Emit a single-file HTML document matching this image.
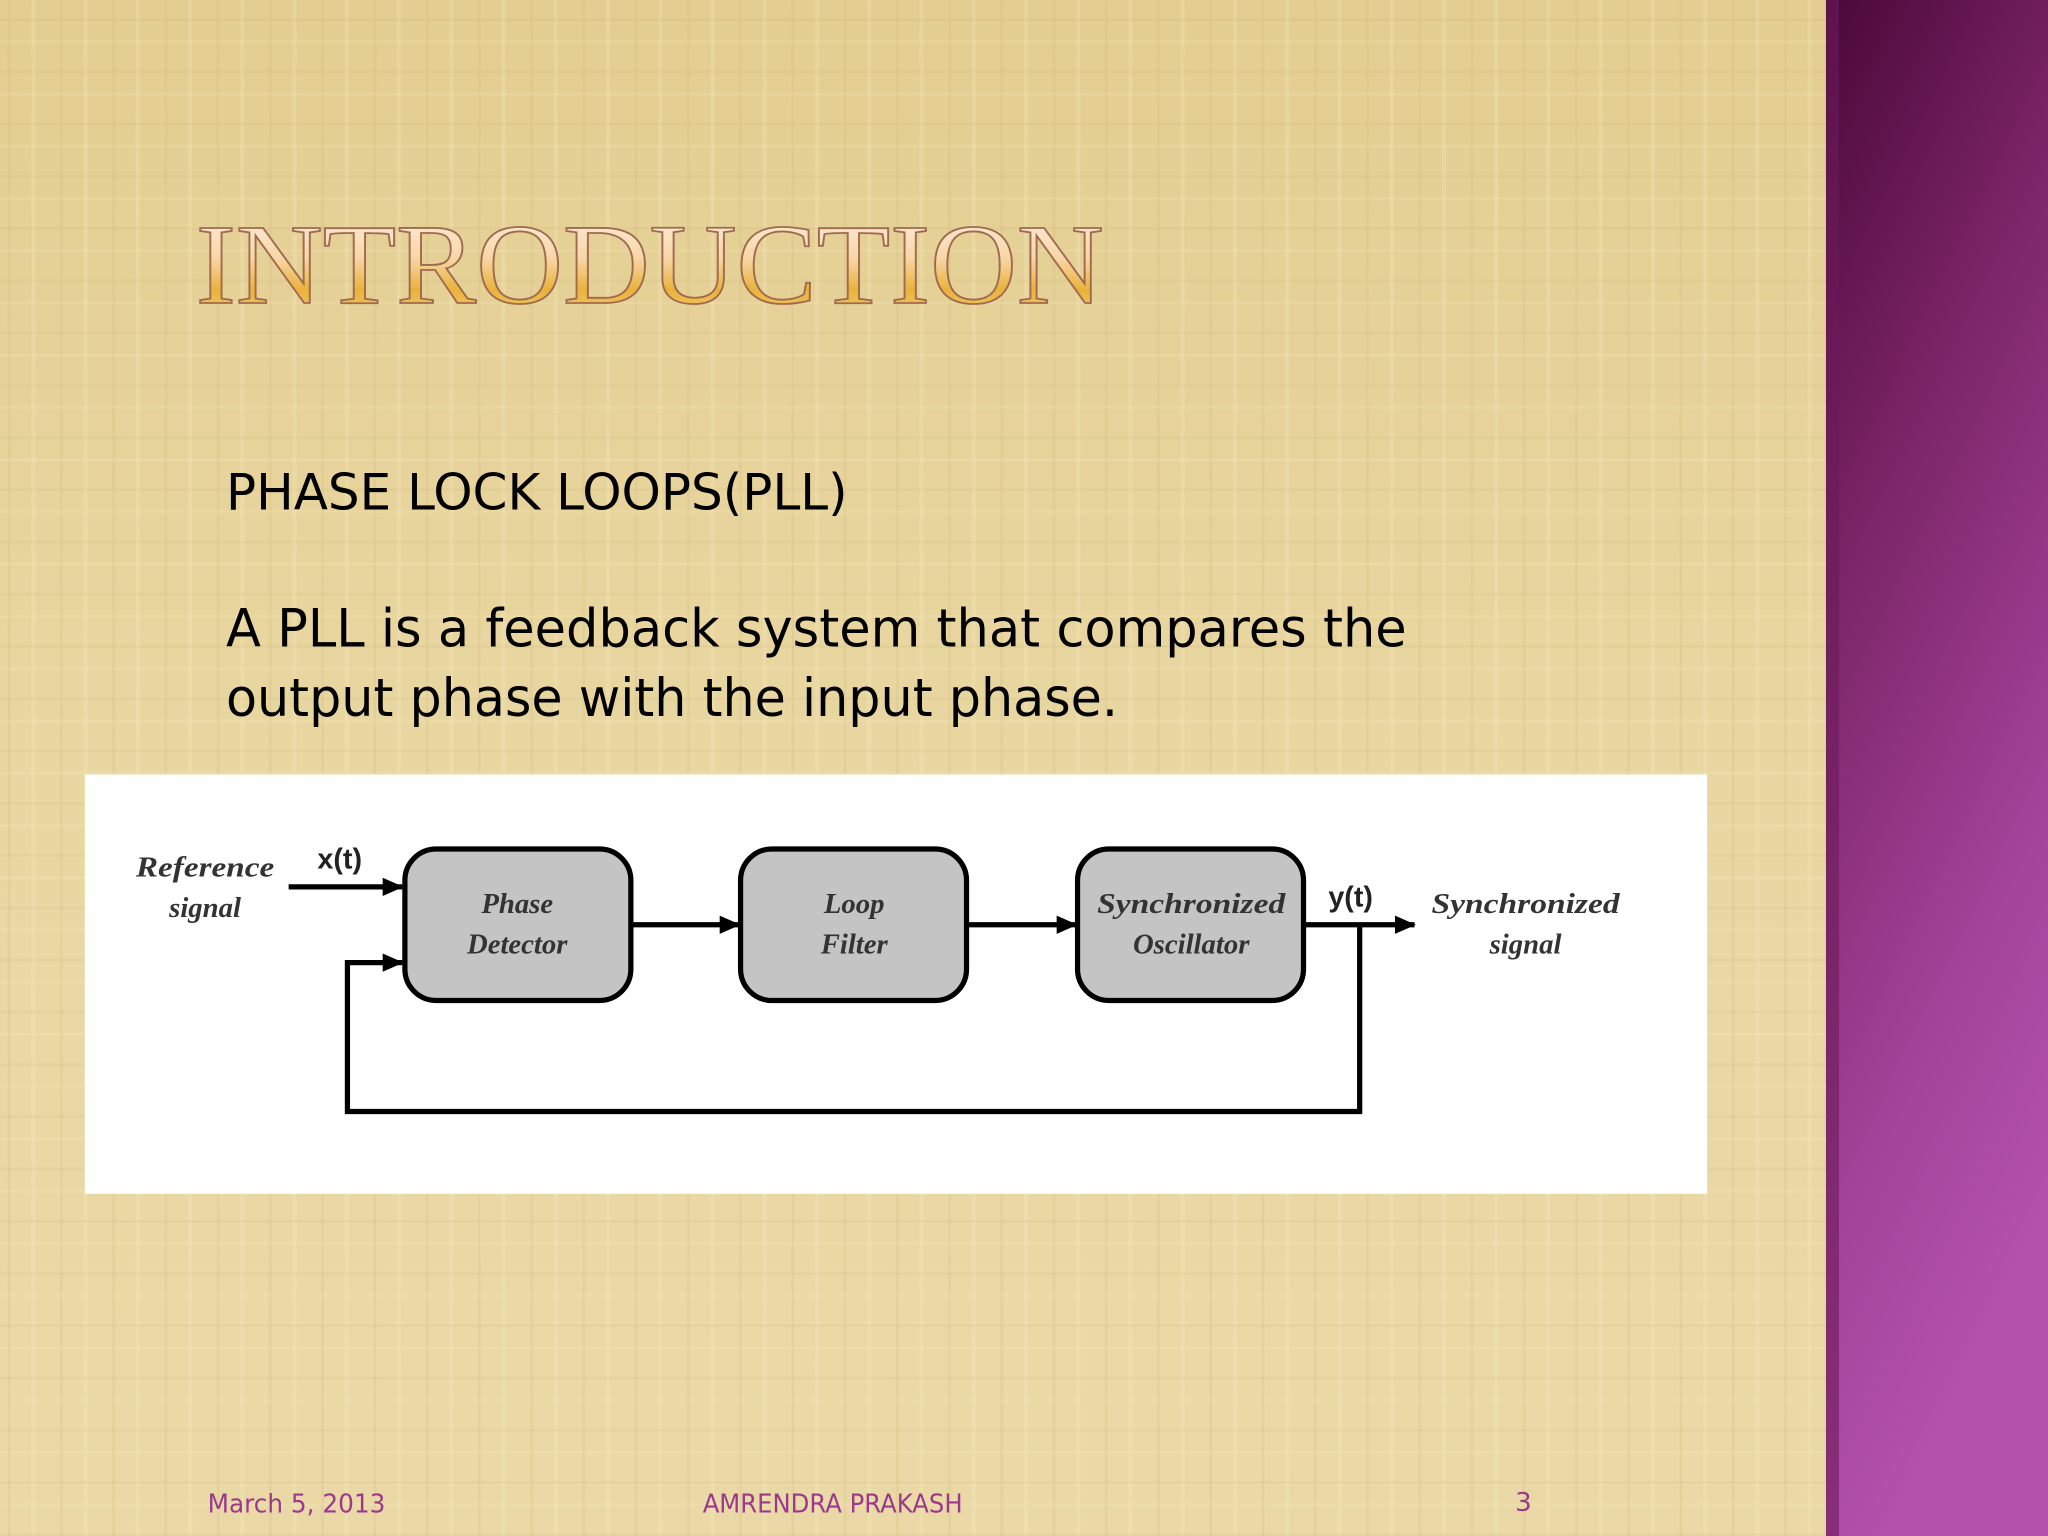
<!DOCTYPE html>
<html><head><meta charset="utf-8"><style>
html,body{margin:0;padding:0;width:2048px;height:1536px;overflow:hidden;background:#e6d39b}
svg{display:block}
</style></head><body>
<svg width="2048" height="1536" viewBox="0 0 1568 1176" xmlns="http://www.w3.org/2000/svg">
<defs>
<linearGradient id="bg" x1="0" y1="0" x2="0" y2="1">
<stop offset="0" stop-color="#e3cd90"/><stop offset="0.5" stop-color="#e9d7a2"/><stop offset="1" stop-color="#ead9a6"/>
</linearGradient>
<linearGradient id="pur" x1="0" y1="0" x2="0.3" y2="1">
<stop offset="0" stop-color="#4a0838"/><stop offset="0.35" stop-color="#7a2466"/><stop offset="0.75" stop-color="#a4439a"/><stop offset="1" stop-color="#b452ab"/>
</linearGradient>
<linearGradient id="gold" x1="0" y1="0" x2="0" y2="1">
<stop offset="0" stop-color="#fff4ea"/><stop offset="0.45" stop-color="#f7d6a6"/><stop offset="0.7" stop-color="#e9b23a"/><stop offset="1" stop-color="#f5d58a"/>
</linearGradient>
<pattern id="tex" width="40" height="40" patternUnits="userSpaceOnUse">
<rect x="6" y="0" width="2" height="40" fill="#c9b070" opacity="0.18"/>
<rect x="24" y="0" width="3" height="40" fill="#f6eac4" opacity="0.25"/>
<rect x="0" y="14" width="40" height="2" fill="#c9b070" opacity="0.15"/>
<rect x="0" y="31" width="40" height="2" fill="#f6eac4" opacity="0.2"/>
</pattern>
<marker id="ar" markerWidth="16" markerHeight="16" refX="15" refY="7" orient="auto" markerUnits="userSpaceOnUse" viewBox="0 0 16 14">
<path d="M0,0 L16,7 L0,14 z" fill="#000"/></marker>
</defs>
<rect width="1568" height="1176" fill="url(#bg)"/>
<rect width="1398" height="1176" fill="url(#tex)"/>
<rect x="1398" y="0" width="170" height="1176" fill="url(#pur)"/>
<rect x="1398" y="0" width="10" height="1176" fill="#6a1a58" opacity="0.6"/>

<text x="150" y="232" font-family="Liberation Serif, serif" font-size="88" fill="url(#gold)" stroke="#a06a50" stroke-width="1.4" textLength="695" lengthAdjust="spacingAndGlyphs">INTRODUCTION</text>

<g font-family="DejaVu Sans, Liberation Sans, sans-serif" fill="#000">
<text x="173" y="390" font-size="38" textLength="476" lengthAdjust="spacingAndGlyphs">PHASE LOCK LOOPS(PLL)</text>
<text x="173" y="495" font-size="40" textLength="904" lengthAdjust="spacingAndGlyphs">A  PLL is a feedback system that compares the</text>
<text x="173" y="548" font-size="40" textLength="683" lengthAdjust="spacingAndGlyphs">output phase with the input phase.</text>
</g>

<rect x="65" y="593" width="1242" height="321" fill="#fff"/>
<g stroke="#000" stroke-width="4" fill="#c4c4c4">
<rect x="310" y="650" width="173" height="116" rx="24"/>
<rect x="567" y="650" width="173" height="116" rx="24"/>
<rect x="825" y="650" width="173" height="116" rx="24"/>
</g>
<g stroke="#000" stroke-width="4" fill="none">
<line x1="221" y1="679" x2="308" y2="679" marker-end="url(#ar)"/>
<line x1="483" y1="708" x2="566" y2="708" marker-end="url(#ar)"/>
<line x1="740" y1="708" x2="824" y2="708" marker-end="url(#ar)"/>
<line x1="998" y1="708" x2="1083" y2="708" marker-end="url(#ar)"/>
<polyline points="1041,708 1041,851 266,851 266,737 308,737" marker-end="url(#ar)"/>
</g>
<g font-family="Liberation Serif, serif" font-style="italic" font-weight="bold" font-size="22" fill="#333" text-anchor="middle">
<text x="396" y="699">Phase</text><text x="396" y="730">Detector</text>
<text x="654" y="699">Loop</text><text x="654" y="730">Filter</text>
<text x="912" y="699" textLength="144" lengthAdjust="spacingAndGlyphs">Synchronized</text><text x="912" y="730">Oscillator</text>
<text x="157" y="671" textLength="106" lengthAdjust="spacingAndGlyphs">Reference</text><text x="157" y="702">signal</text>
<text x="1168" y="699" textLength="144" lengthAdjust="spacingAndGlyphs">Synchronized</text><text x="1168" y="730">signal</text>
</g>
<g font-family="Liberation Sans, sans-serif" font-weight="bold" font-size="22" fill="#222">
<text x="243" y="665">x(t)</text>
<text x="1017" y="694">y(t)</text>
</g>
<g font-family="DejaVu Sans, Liberation Sans, sans-serif" font-size="20" fill="#9b3a8c">
<text x="159" y="1158" textLength="136" lengthAdjust="spacingAndGlyphs">March 5, 2013</text>
<text x="538" y="1158" textLength="199" lengthAdjust="spacingAndGlyphs">AMRENDRA PRAKASH</text>
<text x="1160" y="1157">3</text>
</g>
</svg>
</body></html>
